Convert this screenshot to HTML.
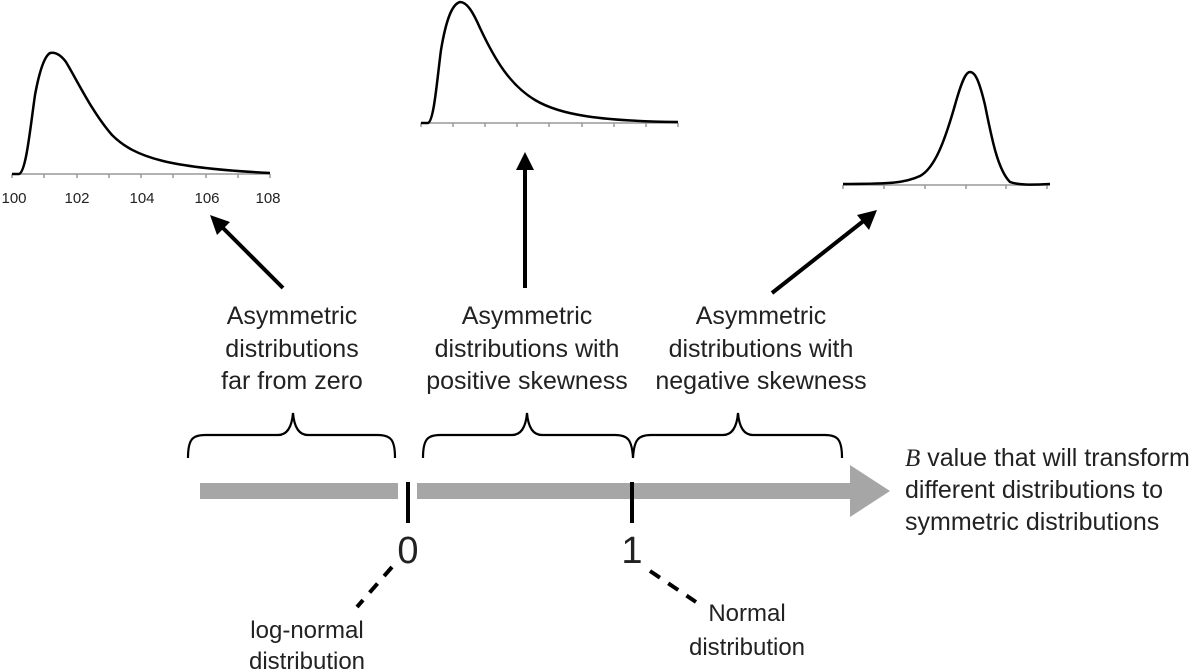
<!DOCTYPE html>
<html><head><meta charset="utf-8"><style>
html,body{margin:0;padding:0;background:#fff;}
svg{display:block;}
text{font-family:"Liberation Sans",sans-serif;fill:#222;}
</style></head><body>
<svg width="1200" height="670" viewBox="0 0 1200 670" xmlns="http://www.w3.org/2000/svg">
<g stroke="#999" stroke-width="1.5" fill="none">
<line x1="12" y1="174" x2="270" y2="174"/>
<path d="M12,174v4M44,174v4M77,174v4M109,174v4M141,174v4M173,174v4M206,174v4M238,174v4M270,174v4"/>
<line x1="421" y1="123" x2="678" y2="123"/>
<path d="M421,123v4M453,123v4M485,123v4M517,123v4M549,123v4M582,123v4M614,123v4M646,123v4M678,123v4"/>
<line x1="843" y1="185" x2="1050" y2="185"/>
<path d="M843,185v4M884,185v4M925,185v4M966,185v4M1006,185v4M1047,185v4"/>
</g>
<g stroke="#000" stroke-width="2.5" fill="none">
<path d="M12,174 L19,174 C26,172 30,130 35,95 C40,68 45,56 50,53 C55,52 60,54 66,62 C78,82 92,112 112,135 C135,158 170,168 270,173"/>
<path d="M421,123 L428,123 C434,121 437,80 441,50 C446,20 452,4 460,2 C467,2 473,12 480,28 C495,60 510,85 535,100 C560,115 600,121 678,122"/>
<path d="M843,184 C890,184 905,183 920,176 C935,168 945,140 955,105 C962,80 966,72 970,72 C975,72 979,80 985,105 C992,140 998,170 1010,182 C1018,185 1030,185 1050,184"/>
</g>
<g font-size="15" text-anchor="middle">
<text x="14" y="203">100</text><text x="77" y="203">102</text><text x="142" y="203">104</text><text x="207" y="203">106</text><text x="268" y="203">108</text>
</g>
<g stroke="#000" stroke-width="4" fill="#000">
<line x1="283" y1="288" x2="220" y2="225"/>
<polygon stroke="none" points="210,215 230,222 217,235"/>
<line x1="525" y1="288" x2="525" y2="166"/>
<polygon stroke="none" points="525,152 516,170 534,170"/>
<line x1="772" y1="293" x2="866" y2="219"/>
<polygon stroke="none" points="877,210 869,230 857,215"/>
</g>
<g font-size="25" text-anchor="middle">
<text x="292" y="324">Asymmetric</text>
<text x="292" y="357">distributions</text>
<text x="292" y="389">far from zero</text>
<text x="527" y="324">Asymmetric</text>
<text x="527" y="357">distributions with</text>
<text x="527" y="389">positive skewness</text>
<text x="761" y="324">Asymmetric</text>
<text x="761" y="357">distributions with</text>
<text x="761" y="389">negative skewness</text>
</g>
<g stroke="#000" stroke-width="2.2" fill="none">
<path d="M188,458 C188,440 192,435 205,435 L278,435 C288,435 292,425 293,413 C294,425 298,435 308,435 L378,435 C391,435 395,440 395,458"/>
<path d="M423,458 C423,440 427,435 440,435 L512,435 C522,435 526,425 527,413 C528,425 532,435 542,435 L615,435 C628,435 632,440 633,458 C634,440 638,435 651,435 L723,435 C733,435 737,425 738,413 C739,425 743,435 753,435 L825,435 C838,435 842,440 842,458"/>
</g>
<rect x="200" y="483" width="198" height="16" fill="#a6a6a6"/>
<rect x="417" y="483" width="434" height="16" fill="#a6a6a6"/>
<polygon points="850,465 890,491 850,517" fill="#a6a6a6"/>
<line x1="408" y1="482" x2="408" y2="523" stroke="#000" stroke-width="4"/>
<line x1="632" y1="482" x2="632" y2="523" stroke="#000" stroke-width="4"/>
<text x="408" y="563" font-size="38" text-anchor="middle">0</text>
<text x="632" y="563" font-size="38" text-anchor="middle">1</text>
<line x1="392" y1="567" x2="357" y2="607" stroke="#000" stroke-width="4" stroke-dasharray="12,10"/>
<line x1="650" y1="571" x2="696" y2="602" stroke="#000" stroke-width="4" stroke-dasharray="12,10"/>
<g font-size="24" text-anchor="middle">
<text x="307" y="638">log-normal</text>
<text x="307" y="669">distribution</text>
<text x="747" y="621">Normal</text>
<text x="747" y="655">distribution</text>
</g>
<g font-size="25">
<text x="905" y="466"><tspan font-family="Liberation Serif" font-style="italic">B</tspan> value that will transform</text>
<text x="905" y="498">different distributions to</text>
<text x="905" y="530">symmetric distributions</text>
</g>
</svg>
</body></html>
